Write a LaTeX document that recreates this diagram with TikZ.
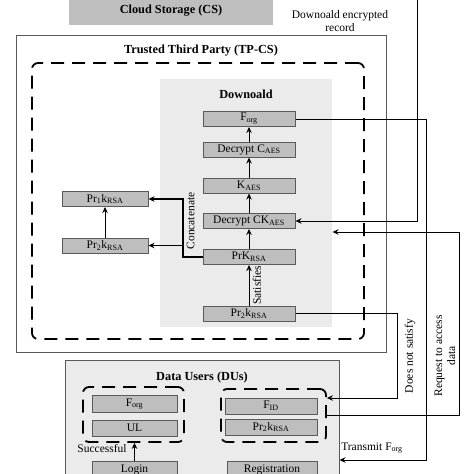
\documentclass[tikz,border=0pt]{standalone}
\usepackage{fontspec}
\setmainfont{Liberation Serif}
\usetikzlibrary{arrows.meta}
\definecolor{boxgray}{HTML}{BEBEBE}
\definecolor{panelgray}{HTML}{EBEBEB}
\definecolor{edgegray}{HTML}{5A5A5A}

\tikzset{
  keybox/.style={draw=edgegray, fill=boxgray, minimum width=92pt, minimum height=15pt, inner sep=0pt, font=\fontsize{11.5}{13}\selectfont},
  ttl/.style={font=\bfseries\fontsize{12.3}{14}\selectfont},
  lbl/.style={font=\fontsize{11.5}{13}\selectfont},
  grp/.style={draw, line width=1.8pt, rounded corners=6pt, dash pattern=on 13pt off 8pt},
}

\begin{document}
\begin{tikzpicture}[x=1pt, y=-1pt, line width=1pt, >={Stealth[length=6pt,width=5.5pt]}]
\useasboundingbox (0,0) rectangle (474,474);

% cloud storage
\node[fill=boxgray, minimum width=204pt, minimum height=28pt, ttl] (cs) at (171,11) {Cloud Storage (CS)};
\node[lbl, align=center] (enc) at (340,21) {Downoald encrypted\\record};

% trusted third party
\node[draw=edgegray, minimum width=370pt, minimum height=317pt] (tp) at (201,193.5) {};
\node[ttl] (tptitle) at (201,51) {Trusted Third Party (TP-CS)};
\node[grp, minimum width=332pt, minimum height=276pt] (tpgrp) at (198,201) {};
\node[fill=panelgray, minimum width=172pt, minimum height=248pt] (panel) at (246,203) {};
\node[ttl] (dltitle) at (246,94) {Downoald};

\node[keybox] (forg) at (249,119) {F\textsubscript{org}};
\node[keybox] (dcaes) at (249,149.5) {Decrypt C\textsubscript{AES}};
\node[keybox] (kaes) at (249,185.5) {K\textsubscript{AES}};
\node[keybox] (dckaes) at (249,221) {Decrypt CK\textsubscript{AES}};
\node[keybox] (prk) at (249,257) {PrK\textsubscript{RSA}};
\node[keybox] (prtwo) at (249,313.5) {Pr\textsubscript{2}k\textsubscript{RSA}};
\node[keybox, minimum width=86pt] (prone) at (105,199) {Pr\textsubscript{1}k\textsubscript{RSA}};
\node[keybox, minimum width=86pt] (prtwoleft) at (105,245.5) {Pr\textsubscript{2}k\textsubscript{RSA}};

\draw[->] (prtwo) -- node[lbl, rotate=90, anchor=north] (sat) {Satisfies} (prk);
\draw[->] (prk) -- (dckaes);
\draw[->] (dckaes) -- (kaes);
\draw[->] (kaes) -- (dcaes);
\draw[->] (dcaes) -- (forg);
\draw[->] (prtwoleft) -- (prone);

% concatenate
\coordinate (cc) at (183,257);
\draw[->, line width=1.7pt] (prk.west) -- (cc) |- (prone.east);
\draw[->, line width=1.7pt] (cc |- prtwoleft.east) -- (prtwoleft.east);
\node[lbl, rotate=90] (cat) at (190.5,221) {Concatenate};

% data users
\node[draw=edgegray, fill=panelgray, minimum width=274pt, minimum height=130pt] (du) at (202,425) {};
\node[ttl] (dutitle) at (202,378) {Data Users (DUs)};
\node[grp, minimum width=101pt, minimum height=55pt] (lgrp) at (133.5,414.5) {};
\node[grp, minimum width=105pt, minimum height=53pt] (rgrp) at (273.5,415.5) {};
\node[keybox, minimum width=85pt, minimum height=17pt] (forgu) at (134.5,404) {F\textsubscript{org}};
\node[keybox, minimum width=85pt, minimum height=16pt] (ul) at (134.5,428) {UL};
\node[keybox, minimum height=16pt] (fid) at (271,406) {F\textsubscript{ID}};
\node[keybox, minimum height=16pt] (prtwou) at (271,427) {Pr\textsubscript{2}k\textsubscript{RSA}};
\node[keybox, minimum width=85pt, minimum height=18pt] (login) at (134.5,470) {Login};
\node[keybox, minimum width=90pt, minimum height=18pt] (reg) at (272,470) {Registration};
\draw[->] (login.north) -- (login.north |- lgrp.south);
\node[lbl] (succ) at (102,449) {Successful};

% connectors on the right
\coordinate (enctop) at (417,-2);
\draw[->] (enctop) |- (dckaes.east);

\coordinate (tx) at (426,460);
\draw[->] (forg.east) -| (tx) -- (tx -| du.east);
\node[lbl] (txlbl) at (372,448) {Transmit F\textsubscript{org}};

\coordinate (dn) at (397,398);
\draw[->] (prtwo.east) -| (dn) -- (dn -| rgrp.east);
\node[lbl, rotate=90] (dnlbl) at (410,356) {Does not satisfy};

\coordinate (rq) at (459,232);
\draw[->] (rgrp.east) -| (rq) -- (rq -| panel.east);
\node[lbl, rotate=90, align=center] (rqlbl) at (445,356) {Request to access\\data};
\end{tikzpicture}
\end{document}
